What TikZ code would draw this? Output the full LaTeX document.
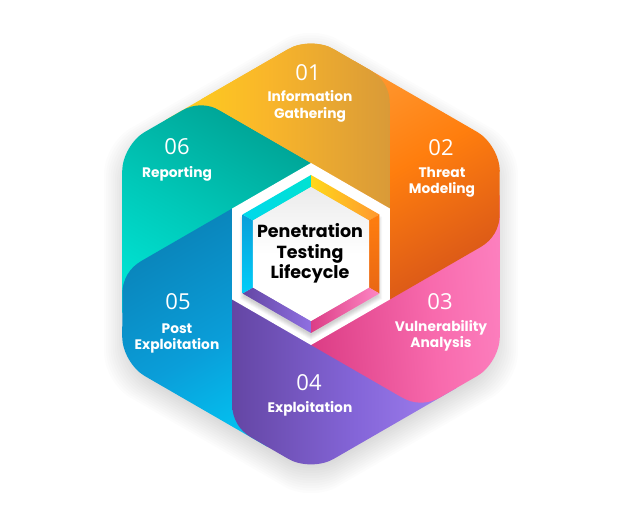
\documentclass[tikz,border=0pt]{standalone}
\usepackage{fontspec}
\setmainfont{Poppins}
\newfontfamily\numfont{Open Sans}
\usetikzlibrary{calc}
\definecolor{yL}{HTML}{FFD81A}\definecolor{yM}{HTML}{F9B62A}\definecolor{yD}{HTML}{D99A38}
\definecolor{oL}{HTML}{FF9E38}\definecolor{oM}{HTML}{FF7E0E}\definecolor{oD}{HTML}{DA5818}
\definecolor{kL}{HTML}{FF8ECA}\definecolor{kM}{HTML}{F86AAD}\definecolor{kD}{HTML}{DC3E86}
\definecolor{uL}{HTML}{A888F6}\definecolor{uM}{HTML}{8465D8}\definecolor{uD}{HTML}{6446A4}
\definecolor{bL}{HTML}{00CEF9}\definecolor{bM}{HTML}{0A9ED9}\definecolor{bD}{HTML}{0A84BA}
\definecolor{tL}{HTML}{00E8D8}\definecolor{tM}{HTML}{00C8B8}\definecolor{tD}{HTML}{00A496}
\newcommand\hexpath[1]{(90:{#1}) -- (30:{#1}) -- (-30:{#1}) -- (-90:{#1}) -- (-150:{#1}) -- (150:{#1}) -- cycle}
\newcommand\piecepath[1]{(0,0) -- (a#1) -- ($(p#1)!22pt!(a#1)$) .. controls ($(p#1)!8pt!(a#1)$) and ($(p#1)!8pt!(w#1)$) .. ($(p#1)!22pt!(w#1)$) -- (w#1) -- (z#1) -- cycle}
\tikzset{
  pc1/.style={top color=yD, bottom color=yL, middle color=yM, shading angle=-90},
  pc2/.style={top color=oD, bottom color=oL, middle color=oM, shading angle=-150},
  pc3/.style={top color=kD, bottom color=kL, middle color=kM, shading angle=95},
  pc4/.style={top color=uD, bottom color=uL, middle color=uM, shading angle=-270},
  pc5/.style={top color=bD, bottom color=bL, middle color=bM, shading angle=-330},
  pc6/.style={top color=tD, bottom color=tL, middle color=tM, shading angle=-390},
  num/.style={text=white, font=\numfont\fontsize{22}{24}\selectfont},
  lbl/.style={text=white, font=\bfseries\fontsize{13.8}{16.5}\selectfont, align=center},
  ctr/.style={text=black, font=\bfseries\fontsize{17.5}{20.5}\selectfont, align=center}
}
\begin{document}
\begin{tikzpicture}[x=1pt,y=1pt]
\useasboundingbox (-311,-276) rectangle (308,254);
\fill[white] (-311,-276) rectangle (308,254);
% soft shadow
\foreach \i in {1,...,14}
  \fill[black, opacity=0.012, rounded corners=30pt, yshift=-9pt] \hexpath{204+2.5*\i};
% coordinates
\foreach \k in {1,...,6}{
  \pgfmathsetmacro\rr{-60*(\k-1)}
  \coordinate (a\k) at (30+\rr:91);
  \coordinate (p\k) at (65.45+\rr:189.6);
  \coordinate (w\k) at (101.84+\rr:253.4);
  \coordinate (z\k) at (137.27+\rr:229.1);
}
\begin{scope}
  \clip[rounded corners=26pt] \hexpath{218};
  \shade[pc1] \piecepath{1};
  \shade[pc6] \piecepath{6};
  \shade[pc5] \piecepath{5};
  \shade[pc4] \piecepath{4};
  \shade[pc3] \piecepath{3};
  \shade[pc2] \piecepath{2};
  \begin{scope}
    \clip (-346.4,291) -- (346.4,-109) -- (600,300) -- (0,600) -- cycle;
    \shade[pc1] \piecepath{1};
  \end{scope}
\end{scope}
% white ring
\fill[white] \hexpath{91};
\foreach \i in {1,...,6}
  \fill[black, opacity=0.03, yshift=-4pt] \hexpath{76+\i};
% bevel
\foreach \ang [count=\i] in {90,30,-30,-90,-150,150}{
  \coordinate (bo\i) at (\ang:79);
  \coordinate (bi\i) at (\ang:67);
}
\shade[left color=yL, right color=oL!80!oM] (bo1) -- (bo2) -- (bi2) -- (bi1) -- cycle;
\shade[top color=oM, bottom color=oD!60!oM] (bo2) -- (bo3) -- (bi3) -- (bi2) -- cycle;
\shade[left color=kD, right color=kL!80!kM] (bo3) -- (bo4) -- (bi4) -- (bi3) -- cycle;
\shade[left color=uD, right color=uM!70!uL] (bo4) -- (bo5) -- (bi5) -- (bi4) -- cycle;
\shade[top color=bM, bottom color=bL] (bo5) -- (bo6) -- (bi6) -- (bi5) -- cycle;
\shade[left color=bL!60!tL, right color=tL!80!tM] (bo6) -- (bo1) -- (bi1) -- (bi6) -- cycle;
\shade[top color=black!8, bottom color=white, middle color=white] \hexpath{67};
% labels
\node[num] (n1) at (-3,181) {01};
\node[lbl] (l1) at (-1,147.5) {Information\\Gathering};
\node[num] (n2) at (130,106) {02};
\node[lbl] (l2) at (131,71.5) {Threat\\Modeling};
\node[num] (n3) at (129,-48) {03};
\node[lbl] (l3) at (130,-82) {Vulnerability\\Analysis};
\node[num] (n4) at (-2,-129) {04};
\node[lbl] (l4) at (-1,-155) {Exploitation};
\node[num] (n5) at (-133,-48) {05};
\node[lbl] (l5) at (-134,-84.5) {Post\\Exploitation};
\node[num] (n6) at (-134,107) {06};
\node[lbl] (l6) at (-134,80) {Reporting};
\node[ctr] (c) at (-1,0.5) {Penetration\\Testing\\Lifecycle};
\end{tikzpicture}
\end{document}
